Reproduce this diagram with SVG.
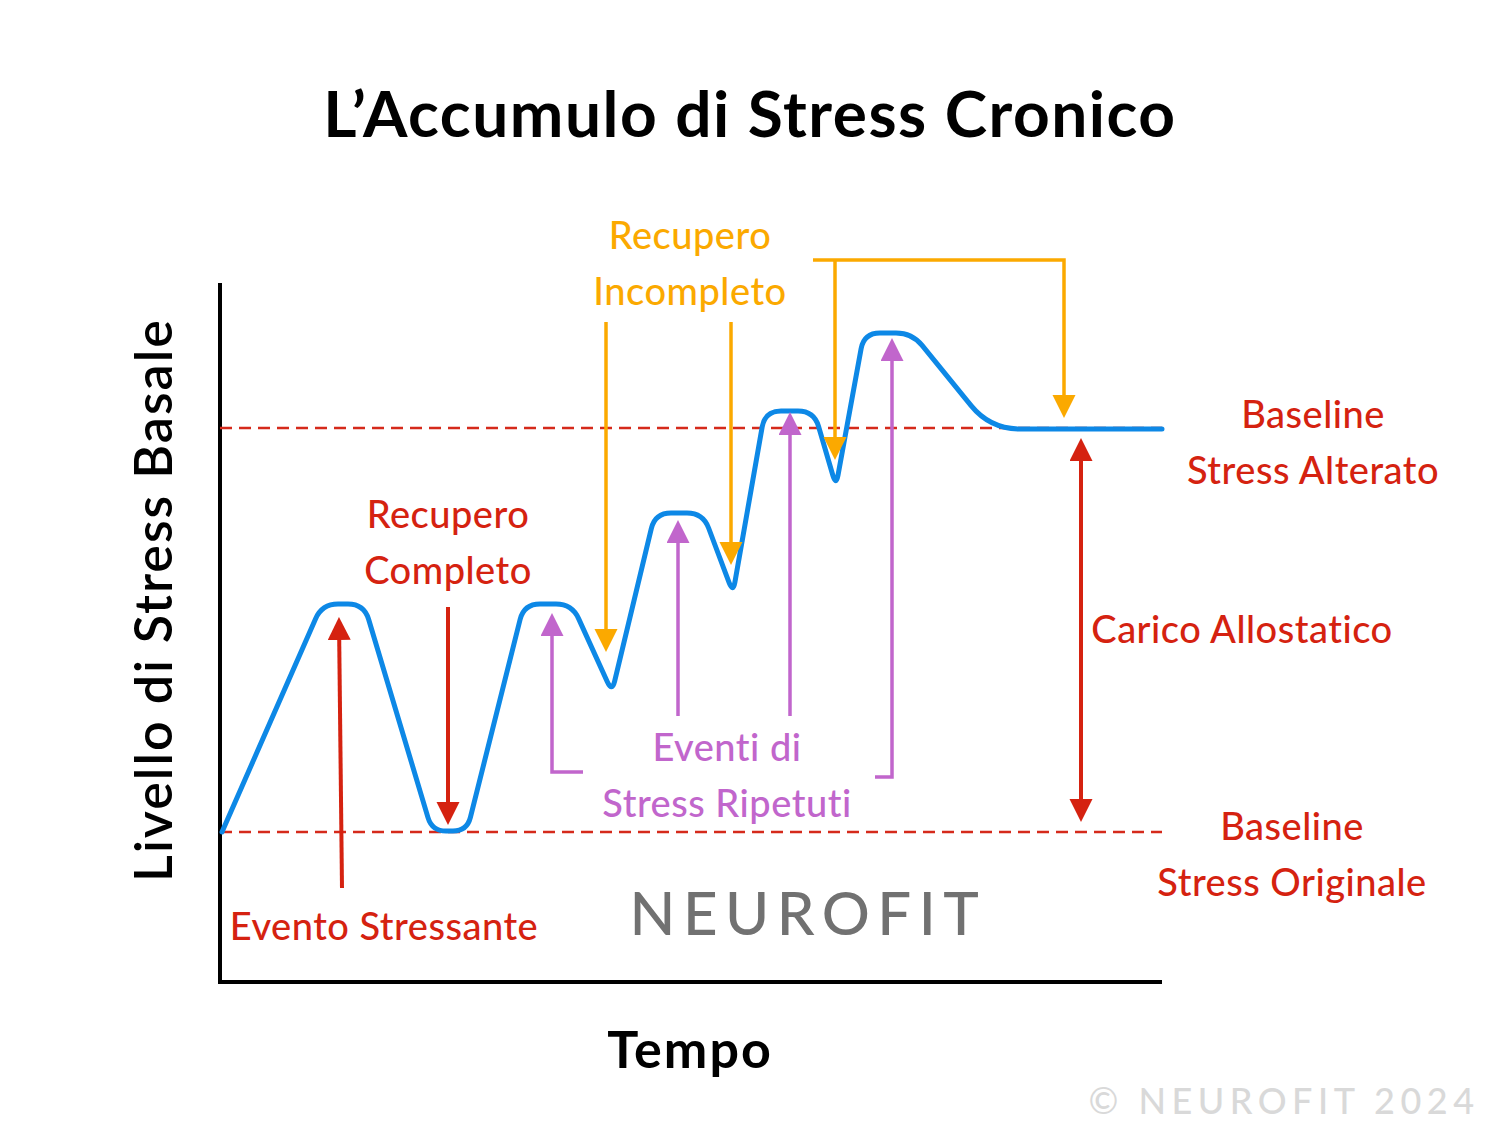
<svg xmlns="http://www.w3.org/2000/svg" width="1500" height="1146" viewBox="0 0 1500 1146">
<style>
text{font-family:"Lato","Noto Sans","Liberation Sans",sans-serif;font-variant-ligatures:none}
.red{fill:#d52210;font-size:38px;font-weight:500;letter-spacing:0.5px}
.org{fill:#fba900;font-size:38px;font-weight:500;letter-spacing:0.5px}
.pur{fill:#c166cc;font-size:38px;font-weight:500;letter-spacing:0.5px}
.ar-red{stroke:#d52210;stroke-width:4;fill:none}
.ar-org{stroke:#fba900;stroke-width:3.5;fill:none}
.ar-pur{stroke:#c166cc;stroke-width:3.5;fill:none}
.dash{stroke:#d52a1b;stroke-width:2.5;stroke-dasharray:12 7;fill:none}
</style>
<defs>
<marker id="hr" markerUnits="userSpaceOnUse" markerWidth="24" markerHeight="24" refX="19" refY="11.5" orient="auto-start-reverse"><path d="M0,0 L23,11.5 L0,23 z" fill="#d52210"/></marker>
<marker id="ho" markerUnits="userSpaceOnUse" markerWidth="24" markerHeight="24" refX="19" refY="11.5" orient="auto"><path d="M0,0 L23,11.5 L0,23 z" fill="#fba900"/></marker>
<marker id="hp" markerUnits="userSpaceOnUse" markerWidth="24" markerHeight="24" refX="19" refY="11.5" orient="auto"><path d="M0,0 L23,11.5 L0,23 z" fill="#c166cc"/></marker>
</defs>
<rect width="1500" height="1146" fill="#fff"/>
<text x="750" y="137" text-anchor="middle" font-size="64" font-weight="700" letter-spacing="1.5" fill="#000">L’Accumulo di Stress Cronico</text>
<g id="axes">
<path d="M220,283 V982 H1162" stroke="#000" stroke-width="4" fill="none"/>
</g>
<g id="baselines">
<line class="dash" x1="220" y1="428" x2="1162" y2="428"/>
<line class="dash" x1="220" y1="832" x2="1162" y2="832"/>
</g>
<g id="stress-curve">
<path d="M222,832 L315.6,618.7 Q322,604 338,604 L348,604 Q364,604 368.6,619.3 L428,817.6 Q432,831 446,831 L453,831 Q467,831 470.4,817.4 L520.1,619.5 Q524,604 540,604 L556,604 Q572,604 578.6,618.6 L607.4,682 Q612,692 614.6,681.3 L651.3,528.6 Q655,513 671,513 L687,513 Q703,513 708.6,528 L729.1,582.7 Q733,593 734.9,582.2 L762.2,426.8 Q765,411 781,411 L798,411 Q814,411 818.5,426.3 L832.9,475.5 Q836,486 838,475.2 L861.1,348.7 Q864,333 880,333 L896,333 Q912,333 922.1,345.4 L971.1,405.7 Q990,429 1020,429 L1162,429" stroke="#0d88e6" stroke-width="5" fill="none" stroke-linejoin="round" stroke-linecap="round"/>
</g>
<g id="connectors">
<line class="ar-red" x1="342" y1="888" x2="339" y2="621" marker-end="url(#hr)"/>
<line class="ar-red" x1="448" y1="607" x2="448" y2="821" marker-end="url(#hr)"/>
<line class="ar-red" x1="1081" y1="442" x2="1081" y2="818" marker-start="url(#hr)" marker-end="url(#hr)"/>
<line class="ar-org" x1="606" y1="322" x2="606" y2="648" marker-end="url(#ho)"/>
<line class="ar-org" x1="731" y1="322" x2="731" y2="561" marker-end="url(#ho)"/>
<path class="ar-org" d="M813,260 H1064 V414" marker-end="url(#ho)"/>
<line class="ar-org" x1="835" y1="260" x2="835" y2="456" marker-end="url(#ho)"/>
<path class="ar-pur" d="M583,772 H552 V617" marker-end="url(#hp)"/>
<line class="ar-pur" x1="678" y1="716" x2="678" y2="524" marker-end="url(#hp)"/>
<line class="ar-pur" x1="790" y1="716" x2="790" y2="416" marker-end="url(#hp)"/>
<path class="ar-pur" d="M875,777 H892 V342" marker-end="url(#hp)"/>
</g>
<g id="label-incompleto">
<text class="org" x="690" y="249" text-anchor="middle">Recupero</text>
<text class="org" x="690" y="305" text-anchor="middle">Incompleto</text>
</g>
<g id="label-completo">
<text class="red" x="448" y="528" text-anchor="middle">Recupero</text>
<text class="red" x="448" y="584" text-anchor="middle">Completo</text>
</g>
<g id="label-alterato">
<text class="red" x="1313" y="428" text-anchor="middle">Baseline</text>
<text class="red" x="1313" y="484" text-anchor="middle">Stress Alterato</text>
</g>
<g id="label-carico">
<text class="red" x="1242" y="643" text-anchor="middle">Carico Allostatico</text>
</g>
<g id="label-eventi">
<text class="pur" x="727" y="761" text-anchor="middle">Eventi di</text>
<text class="pur" x="727" y="817" text-anchor="middle">Stress Ripetuti</text>
</g>
<g id="label-originale">
<text class="red" x="1292" y="840" text-anchor="middle">Baseline</text>
<text class="red" x="1292" y="896" text-anchor="middle">Stress Originale</text>
</g>
<g id="label-evento">
<text class="red" x="384" y="940" text-anchor="middle">Evento Stressante</text>
</g>
<text x="808" y="935" text-anchor="middle" font-size="60" font-weight="500" fill="#717171" letter-spacing="7.5">NEUROFIT</text>
<text x="690" y="1068" text-anchor="middle" font-size="52" font-weight="700" letter-spacing="2" fill="#000">Tempo</text>
<text transform="translate(172,600) rotate(-90)" x="0" y="0" text-anchor="middle" font-size="52" font-weight="600" letter-spacing="2" fill="#000">Livello di Stress Basale</text>
<text x="1284" y="1114" text-anchor="middle" font-size="36" font-weight="500" fill="#d9d9d9" letter-spacing="5.5">© NEUROFIT 2024</text>
</svg>
